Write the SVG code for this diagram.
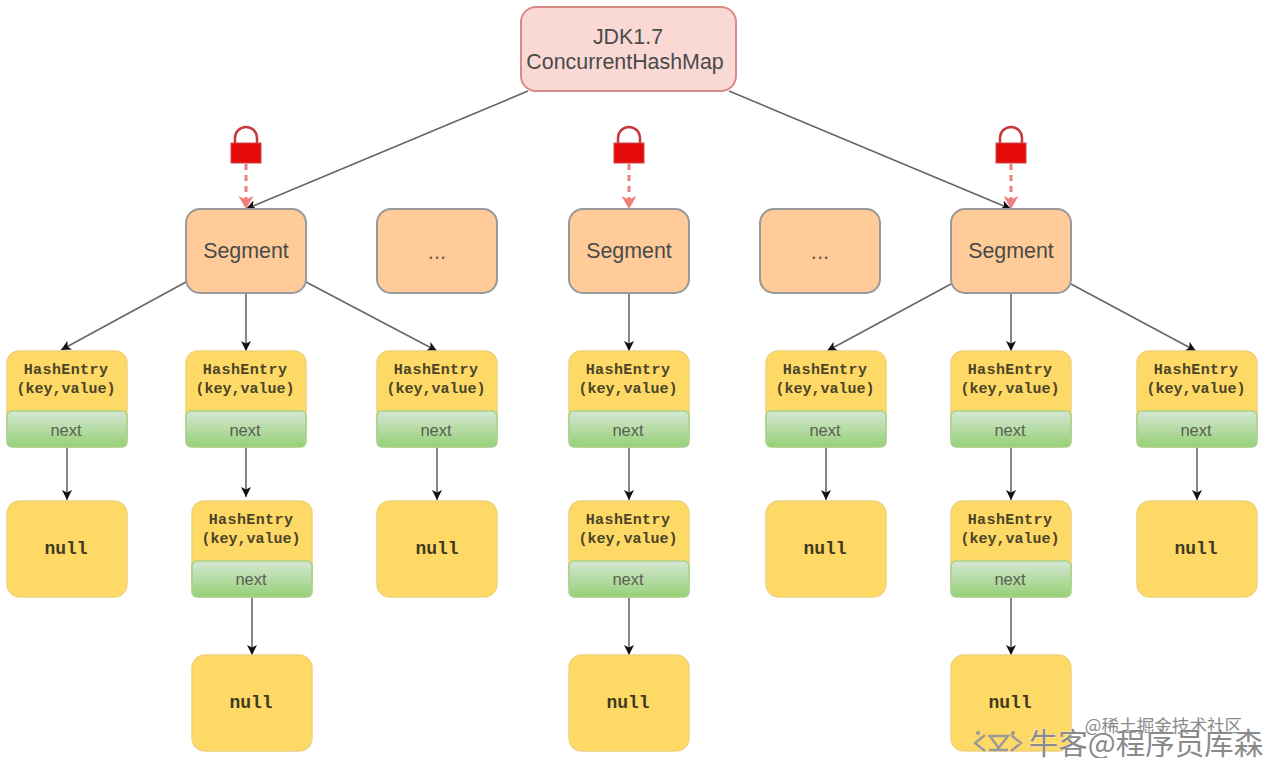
<svg xmlns="http://www.w3.org/2000/svg" width="1265" height="758" viewBox="0 0 1265 758">
<style>
text{text-anchor:middle;font-family:"Liberation Sans",Arial,sans-serif;fill:#4a4a4a}
.root{fill:#fad9d5;stroke:#d98a84;stroke-width:2}
.seg{fill:#ffcc99;stroke:#999;stroke-width:2}
.yel{fill:#ffd966;stroke:#f0d27a;stroke-width:1.5}
.grn{fill:url(#g);stroke:#a6d08c;stroke-width:1.5}
.sans{font-size:21.4px}
.next{font-size:16.5px;fill:#5a5f55}
.dots{font-size:22px;fill:#6b5a45}
.mono{font-family:"Liberation Mono","DejaVu Sans Mono",monospace;font-weight:bold;font-size:15px;fill:#4a4428}
.wide{letter-spacing:.4px}
.null{font-family:"Liberation Mono","DejaVu Sans Mono",monospace;font-weight:bold;font-size:18px;fill:#40391f}
.c{stroke:#666;stroke-width:1.6;fill:none;marker-end:url(#a)}
.d{stroke:#ea6b66;stroke-width:3;stroke-dasharray:6 5;fill:none;opacity:.85;marker-end:url(#o)}
.lb{fill:#e50b0b;stroke:#c94a4a;stroke-width:1}
.ls{fill:none;stroke:#c8353a;stroke-width:2.5}
.wm{fill:#8a8a8a;stroke:#fff;stroke-width:.6;paint-order:stroke;font-family:"Noto Sans CJK SC","Liberation Sans",sans-serif}
</style>
<defs>
<linearGradient id="g" x1="0" y1="0" x2="0" y2="1"><stop offset="0" stop-color="#d5e8d4"/><stop offset="1" stop-color="#97d077"/></linearGradient>
<marker id="a" markerWidth="12" markerHeight="10" refX="10" refY="5" orient="auto" markerUnits="userSpaceOnUse"><path d="M0 0L10 5L0 10L2.5 5Z" fill="#111"/></marker>
<marker id="o" markerWidth="18" markerHeight="16" refX="13" refY="8" orient="auto" markerUnits="userSpaceOnUse"><path d="M0 .5L13 8L0 15.5L3.5 8Z" fill="#ea6b66"/></marker>
</defs>
<rect width="1265" height="758" fill="#fff"/>
<g id="connectors">
<path class="c" d="M528 91L246 209"/><path class="c" d="M729 91L1011 209"/>
<path class="c" d="M186 282L61 350"/><path class="c" d="M246 293V351"/><path class="c" d="M306 282L437 351"/>
<path class="c" d="M629 293V351"/>
<path class="c" d="M951 284L827 351"/><path class="c" d="M1011 293V351"/><path class="c" d="M1071 284L1196 351"/>
<path class="c" d="M67 447V500"/><path class="c" d="M246 447V497"/><path class="c" d="M437 447V500"/><path class="c" d="M629 447V500"/><path class="c" d="M826 447V500"/><path class="c" d="M1011 447V500"/><path class="c" d="M1197 447V500"/>
<path class="c" d="M252 597V655"/><path class="c" d="M629 597V655"/><path class="c" d="M1011 597V655"/>
<path class="d" d="M246 164V209"/><path class="d" d="M629 164V209"/><path class="d" d="M1011 164V209"/>
</g>
<g id="root"><rect class="root" x="521" y="7" width="215" height="84" rx="15"/><text class="sans" x="628" y="44">JDK1.7</text><text class="sans" x="625" y="69">ConcurrentHashMap</text></g>
<g id="lock1"><path class="ls" d="M235 144V138A11 11 0 0 1 257 138V144"/><rect class="lb" x="231" y="143" width="30" height="20"/></g>
<g id="lock2"><path class="ls" d="M618 144V138A11 11 0 0 1 640 138V144"/><rect class="lb" x="614" y="143" width="30" height="20"/></g>
<g id="lock3"><path class="ls" d="M1000 144V138A11 11 0 0 1 1022 138V144"/><rect class="lb" x="996" y="143" width="30" height="20"/></g>
<g id="seg1"><rect class="seg" x="186" y="209" width="120" height="84" rx="14"/><text class="sans" x="246" y="258">Segment</text></g>
<g id="seg2"><rect class="seg" x="377" y="209" width="120" height="84" rx="14"/><text class="dots" x="437" y="259">...</text></g>
<g id="seg3"><rect class="seg" x="569" y="209" width="120" height="84" rx="14"/><text class="sans" x="629" y="258">Segment</text></g>
<g id="seg4"><rect class="seg" x="760" y="209" width="120" height="84" rx="14"/><text class="dots" x="820" y="259">...</text></g>
<g id="seg5"><rect class="seg" x="951" y="209" width="120" height="84" rx="14"/><text class="sans" x="1011" y="258">Segment</text></g>
<g id="entry1"><rect class="yel" x="7" y="351" width="120" height="96" rx="12"/><rect class="grn" x="7" y="411" width="120" height="36" rx="5"/><text class="mono wide" x="66" y="374">HashEntry</text><text class="mono" x="66" y="393">(key,value)</text><text class="next" x="66" y="436">next</text></g>
<g id="entry2"><rect class="yel" x="186" y="351" width="120" height="96" rx="12"/><rect class="grn" x="186" y="411" width="120" height="36" rx="5"/><text class="mono wide" x="245" y="374">HashEntry</text><text class="mono" x="245" y="393">(key,value)</text><text class="next" x="245" y="436">next</text></g>
<g id="entry3"><rect class="yel" x="377" y="351" width="120" height="96" rx="12"/><rect class="grn" x="377" y="411" width="120" height="36" rx="5"/><text class="mono wide" x="436" y="374">HashEntry</text><text class="mono" x="436" y="393">(key,value)</text><text class="next" x="436" y="436">next</text></g>
<g id="entry4"><rect class="yel" x="569" y="351" width="120" height="96" rx="12"/><rect class="grn" x="569" y="411" width="120" height="36" rx="5"/><text class="mono wide" x="628" y="374">HashEntry</text><text class="mono" x="628" y="393">(key,value)</text><text class="next" x="628" y="436">next</text></g>
<g id="entry5"><rect class="yel" x="766" y="351" width="120" height="96" rx="12"/><rect class="grn" x="766" y="411" width="120" height="36" rx="5"/><text class="mono wide" x="825" y="374">HashEntry</text><text class="mono" x="825" y="393">(key,value)</text><text class="next" x="825" y="436">next</text></g>
<g id="entry6"><rect class="yel" x="951" y="351" width="120" height="96" rx="12"/><rect class="grn" x="951" y="411" width="120" height="36" rx="5"/><text class="mono wide" x="1010" y="374">HashEntry</text><text class="mono" x="1010" y="393">(key,value)</text><text class="next" x="1010" y="436">next</text></g>
<g id="entry7"><rect class="yel" x="1137" y="351" width="120" height="96" rx="12"/><rect class="grn" x="1137" y="411" width="120" height="36" rx="5"/><text class="mono wide" x="1196" y="374">HashEntry</text><text class="mono" x="1196" y="393">(key,value)</text><text class="next" x="1196" y="436">next</text></g>
<g id="entry8"><rect class="yel" x="192" y="501" width="120" height="96" rx="12"/><rect class="grn" x="192" y="561" width="120" height="36" rx="5"/><text class="mono wide" x="251" y="524">HashEntry</text><text class="mono" x="251" y="543">(key,value)</text><text class="next" x="251" y="585">next</text></g>
<g id="entry9"><rect class="yel" x="569" y="501" width="120" height="96" rx="12"/><rect class="grn" x="569" y="561" width="120" height="36" rx="5"/><text class="mono wide" x="628" y="524">HashEntry</text><text class="mono" x="628" y="543">(key,value)</text><text class="next" x="628" y="585">next</text></g>
<g id="entry10"><rect class="yel" x="951" y="501" width="120" height="96" rx="12"/><rect class="grn" x="951" y="561" width="120" height="36" rx="5"/><text class="mono wide" x="1010" y="524">HashEntry</text><text class="mono" x="1010" y="543">(key,value)</text><text class="next" x="1010" y="585">next</text></g>
<g id="null1"><rect class="yel" x="7" y="501" width="120" height="96" rx="13"/><text class="null" x="66" y="554">null</text></g>
<g id="null2"><rect class="yel" x="377" y="501" width="120" height="96" rx="13"/><text class="null" x="437" y="554">null</text></g>
<g id="null3"><rect class="yel" x="766" y="501" width="120" height="96" rx="13"/><text class="null" x="825" y="554">null</text></g>
<g id="null4"><rect class="yel" x="1137" y="501" width="120" height="96" rx="13"/><text class="null" x="1196" y="554">null</text></g>
<g id="null5"><rect class="yel" x="192" y="655" width="120" height="96" rx="13"/><text class="null" x="251" y="708">null</text></g>
<g id="null6"><rect class="yel" x="569" y="655" width="120" height="96" rx="13"/><text class="null" x="628" y="708">null</text></g>
<g id="null7"><rect class="yel" x="951" y="655" width="120" height="96" rx="13"/><text class="null" x="1010" y="708">null</text></g>
<g id="watermark">
<path d="M985 735L975 743L985 751M1011 735L1021 743L1011 751M988 736H1008L997 750H989M1008 750H1000L990 736" fill="none" stroke="#9a9a9a" stroke-width="2.4"/>
<circle cx="978" cy="733" r="2" fill="#9a9a9a"/><circle cx="1013" cy="733" r="2" fill="#9a9a9a"/>
<text class="wm" x="1163.500" y="732" style="font-size:17.600px">@稀土掘金技术社区</text>
<text class="wm" x="1146" y="754" style="font-size:29.500px">牛客@程序员库森</text>
</g>
</svg>
